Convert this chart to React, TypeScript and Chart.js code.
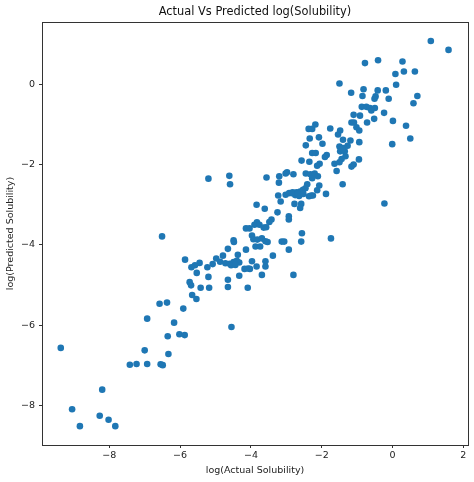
import React, { useEffect, useRef } from "react";
import { Chart, registerables, Plugin } from "chart.js";

Chart.register(...registerables);

const chartTitle = "Actual Vs Predicted log(Solubility)";
const xLabel = "log(Actual Solubility)";
const yLabel = "log(Predicted Solubility)";

const xTicks = [-8, -6, -4, -2, 0, 2];
const yTicks = [-8, -6, -4, -2, 0];

// log(actual solubility)
const actualLog = [
  1.08, 1.58, -0.78, -0.41, 0.28, 0.08, 0.32, 0.63, -1.5, 0.1,
  -1.17, -0.82, -0.85, -0.42, -0.48, -0.51, -0.19, -0.11, 0.7, 0.59,
  -0.87, -0.74, -0.64, -0.6, -0.5, -1.1, -0.92, -0.24, -0.52, -0.72,
  0.01, -1.16, -1.09, -1.02, -0.94, 0.38, -2.18, -2.37, -2.27, -1.76,
  -1.48, -1.54, -2.34, -2.08, -1.4, -1.19, 0.5, -0.94, -2.45, -1.98,
  -0.01, -1.27, -1.5, -1.39, -1.48, -1.35, -2.27, -2.17, -1.86, -1.91,
  -1.33, -1.44, -2.35, -2.57, -2.06, -2.13, -1.64, -1.5, -0.95, -1.1,
  -1.16, -1.58, -5.2, -4.61, -4.59, -3.56, -3.2, -2.98, -3.02, -2.8,
  -2.45, -2.32, -2.2, -2.11, -2.27, -3.21, -1.41, -2.41, -2.07, -3.23,
  -3.16, -3.02, -2.92, -2.82, -2.71, -2.61, -2.53, -2.46, -2.75, -2.64,
  -2.52, -2.36, -2.25, -2.13, -1.88, -2.77, -2.58, -2.61, -0.23, -3.84,
  -3.61, -3.25, -2.93, -2.93, -3.42, -3.48, -3.83, -3.9, -3.76, -3.64,
  -3.57, -4.14, -4.04, -3.97, -3.93, -3.82, -3.69, -3.59, -3.53, -3.13,
  -3.06, -2.58, -2.56, -1.74, -6.51, -4.49, -4.48, -3.87, -3.74, -4.14,
  -4.65, -2.93, -3.38, -4.79, -4.37, -4.98, -4.87, -5.08, -5.86, -5.45,
  -5.58, -5.68, -5.23, -4.72, -4.6, -4.49, -4.4, -4.33, -4.56, -4.44,
  -3.97, -3.84, -3.59, -3.59, -4.18, -4.08, -4.03, -4.33, -3.69, -2.8,
  -5.53, -5.2, -5.73, -5.69, -4.65, -4.65, -5.18, -5.42, -4.09, -5.66,
  -5.54, -6.58, -6.37, -5.91, -6.17, -4.55, -6.93, -6.02, -5.87, -6.35,
  -9.37, -7.0, -6.33, -7.42, -7.23, -6.93, -6.55, -6.49, -8.2, -9.05,
  -8.27, -8.02, -8.83, -7.83, -2.68, -2.86, -1.42, -2.3,
];

// log(predicted solubility)
const predictedLog = [
  1.08, 0.86, 0.53, 0.6, 0.57, 0.26, 0.32, 0.32, 0.02, -0.01,
  -0.21, -0.12, -0.29, -0.15, -0.3, -0.36, -0.15, -0.36, -0.29, -0.47,
  -0.56, -0.56, -0.59, -0.65, -0.59, -0.76, -0.78, -0.71, -0.86, -0.95,
  -0.91, -0.95, -0.95, -1.07, -1.15, -1.03, -1.0, -1.11, -1.11, -1.1,
  -1.15, -1.25, -1.35, -1.32, -1.38, -1.4, -1.35, -1.44, -1.52, -1.48,
  -1.49, -1.53, -1.55, -1.59, -1.67, -1.67, -1.71, -1.71, -1.76, -1.81,
  -1.79, -1.86, -1.93, -1.9, -1.98, -2.03, -1.98, -1.94, -1.87, -2.0,
  -2.05, -2.16, -2.35, -2.28, -2.49, -2.32, -2.29, -2.19, -2.22, -2.24,
  -2.22, -2.24, -2.22, -2.29, -2.34, -2.45, -2.49, -2.49, -2.52, -2.77,
  -2.92, -2.75, -2.71, -2.69, -2.69, -2.67, -2.63, -2.59, -2.76, -2.78,
  -2.73, -2.79, -2.77, -2.64, -2.73, -2.98, -2.98, -3.08, -2.97, -3.0,
  -3.1, -3.19, -3.29, -3.37, -3.37, -3.43, -3.44, -3.5, -3.5, -3.57,
  -3.56, -3.59, -3.59, -3.77, -3.86, -3.87, -3.84, -3.91, -3.93, -3.92,
  -3.92, -3.92, -3.71, -3.84, -3.79, -3.89, -3.93, -4.04, -4.04, -4.12,
  -4.1, -4.12, -4.27, -4.27, -4.25, -4.34, -4.42, -4.48, -4.37, -4.45,
  -4.51, -4.56, -4.56, -4.46, -4.47, -4.43, -4.4, -4.44, -4.51, -4.5,
  -4.41, -4.54, -4.41, -4.54, -4.6, -4.59, -4.6, -4.77, -4.75, -4.75,
  -4.7, -4.8, -4.93, -5.01, -4.87, -5.05, -5.07, -5.07, -5.07, -5.25,
  -5.35, -5.47, -5.44, -5.59, -5.94, -6.05, -5.84, -6.23, -6.25, -6.28,
  -6.57, -6.63, -6.72, -6.99, -6.97, -6.97, -6.98, -7.0, -7.61, -8.1,
  -8.26, -8.36, -8.52, -8.52, -2.72, -2.71, -1.62, -2.77,
];

const fmt = (v: number) => (v < 0 ? "\u2212" + Math.abs(v) : String(v));

// axes frame + title centred over the plot area, like matplotlib
const frame: Plugin = {
  id: "frame",
  afterDatasetsDraw(chart) {
    const { ctx, chartArea } = chart;
    ctx.save();
    ctx.strokeStyle = "#333";
    ctx.lineWidth = 1;
    ctx.strokeRect(
      Math.round(chartArea.left) + 0.5,
      Math.round(chartArea.top) + 0.5,
      Math.round(chartArea.right - chartArea.left),
      Math.round(chartArea.bottom - chartArea.top)
    );
    ctx.fillStyle = "#111";
    ctx.font = "11.4px 'DejaVu Sans'";
    ctx.textAlign = "center";
    ctx.textBaseline = "middle";
    ctx.fillText(chartTitle, (chartArea.left + chartArea.right) / 2, 12);
    ctx.restore();
  },
};

const App: React.FC = () => {
  const canvasRef = useRef<HTMLCanvasElement>(null);
  const chartInstance = useRef<Chart>();

  useEffect(() => {
    if (!canvasRef.current) return;
    const ctx = canvasRef.current.getContext("2d");
    if (!ctx) return;
    if (chartInstance.current) chartInstance.current.destroy();

    const font = { family: "DejaVu Sans", size: 9.5 };

    chartInstance.current = new Chart(ctx, {
      type: "scatter",
      data: {
        datasets: [
          {
            label: "points",
            data: actualLog.map((x, i) => ({ x, y: predictedLog[i] })),
            backgroundColor: "#1f77b4",
            borderWidth: 0,
            pointRadius: 3.3,
            pointHoverRadius: 3.3,
          },
        ],
      },
      options: {
        animation: false,
        responsive: false,
        devicePixelRatio: 1,
        layout: { padding: { left: 0, right: 6, top: 22, bottom: 0 } },
        plugins: {
          legend: { display: false },
          tooltip: { enabled: false },
          title: { display: false },
        },
        scales: {
          x: {
            type: "linear",
            min: -9.9,
            max: 2.13,
            afterBuildTicks: (scale) => {
              scale.ticks = xTicks.map((value) => ({ value }));
            },
            afterFit: (scale) => {
              scale.height = 37;
            },
            grid: {
              drawOnChartArea: false,
              drawTicks: true,
              tickLength: 3,
              tickColor: "#333",
            },
            border: { display: false },
            ticks: {
              color: "#222",
              font,
              padding: 2,
              maxRotation: 0,
              callback: (v) => fmt(Number(v)),
            },
            title: {
              display: true,
              text: xLabel,
              color: "#222",
              font,
              padding: { top: 0, bottom: 6 },
            },
          },
          y: {
            type: "linear",
            min: -8.99,
            max: 1.555,
            afterBuildTicks: (scale) => {
              scale.ticks = yTicks.map((value) => ({ value }));
            },
            afterFit: (scale) => {
              scale.width = 42;
            },
            grid: {
              drawOnChartArea: false,
              drawTicks: true,
              tickLength: 3,
              tickColor: "#333",
            },
            border: { display: false },
            ticks: {
              color: "#222",
              font,
              padding: 4,
              callback: (v) => fmt(Number(v)),
            },
            title: {
              display: true,
              text: yLabel,
              color: "#222",
              font,
              padding: { top: 5, bottom: 0 },
            },
          },
        },
      },
      plugins: [frame],
    });

    return () => {
      if (chartInstance.current) {
        chartInstance.current.destroy();
        chartInstance.current = undefined;
      }
    };
  }, []);

  return (
    <div style={{ position: "absolute", left: 0, top: 0, width: 474, height: 482, background: "#fff" }}>
      <canvas ref={canvasRef} width={474} height={482} />
    </div>
  );
};

export default App;
